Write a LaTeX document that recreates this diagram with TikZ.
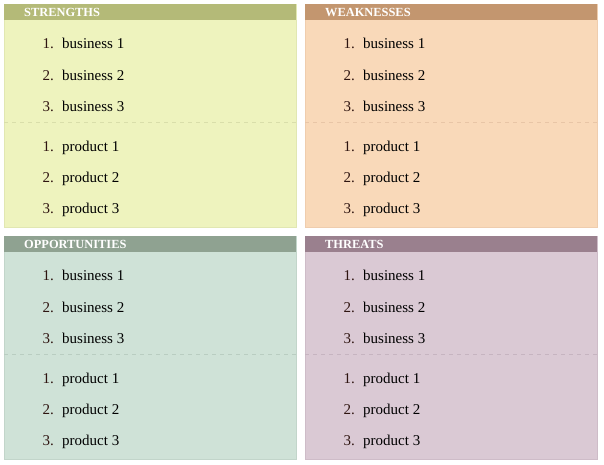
\documentclass[tikz,border=0pt]{standalone}
\usepackage{fontspec}
\setmainfont{Liberation Serif}
\definecolor{shdr}{HTML}{B4BA78}
\definecolor{sbody}{HTML}{EEF3BE}
\definecolor{sline}{HTML}{D9DEAA}
\definecolor{whdr}{HTML}{C3966F}
\definecolor{wbody}{HTML}{F9D9B9}
\definecolor{wline}{HTML}{E8C5A6}
\definecolor{ohdr}{HTML}{8FA291}
\definecolor{obody}{HTML}{CFE2D7}
\definecolor{oline}{HTML}{B9CDC1}
\definecolor{thdr}{HTML}{9A808E}
\definecolor{tbody}{HTML}{DAC9D4}
\definecolor{tline}{HTML}{C6B4C0}
\definecolor{numred}{HTML}{2E1410}
\tikzset{
  hdrtext/.style={anchor=base west, text=white, font=\bfseries\fontsize{12.4}{14}\selectfont, inner sep=0pt},
  numtext/.style={anchor=base east, text=numred, font=\fontsize{15}{18}\selectfont, inner sep=0pt},
  itemtext/.style={anchor=base west, text=black, font=\fontsize{15}{18}\selectfont, inner sep=0pt},
  sepline/.style={dash pattern=on 4pt off 4pt, line width=0.8pt},
}
\newcommand\swotpanel[7]{%
  \fill[#5] (#1,#2) rectangle ++(292,223);
  \draw[#7!60!#5, line width=0.5pt] (#1,#2) rectangle ++(292,223);
  \fill[#4] (#1,#2) rectangle ++(292,16);
  \node[hdrtext] (#3-title) at (#1+20,#2+12) {#6};
  \draw[#7, sepline] (#1,#2+118) coordinate (#3-sepl) -- (#1+292,#2+118) coordinate (#3-sepr);
  \foreach \i/\dy in {1/44,2/76,3/107} {
    \node[numtext] (#3-bn\i) at (#1+50,#2+\dy) {\i.};
    \node[itemtext] (#3-b\i) at (#1+58,#2+\dy) {business \i};
  }
  \foreach \i/\dy in {1/147,2/178,3/209} {
    \node[numtext] (#3-pn\i) at (#1+50,#2+\dy) {\i.};
    \node[itemtext] (#3-p\i) at (#1+58,#2+\dy) {product \i};
  }
}
\begin{document}
\begin{tikzpicture}[x=1pt,y=-1pt]
  \useasboundingbox[fill=white] (0,0) rectangle (604,464);
  \swotpanel{4}{4}{s}{shdr}{sbody}{STRENGTHS}{sline}
  \swotpanel{305}{4}{w}{whdr}{wbody}{WEAKNESSES}{wline}
  \swotpanel{4}{236}{o}{ohdr}{obody}{OPPORTUNITIES}{oline}
  \swotpanel{305}{236}{t}{thdr}{tbody}{THREATS}{tline}
\end{tikzpicture}
\end{document}
